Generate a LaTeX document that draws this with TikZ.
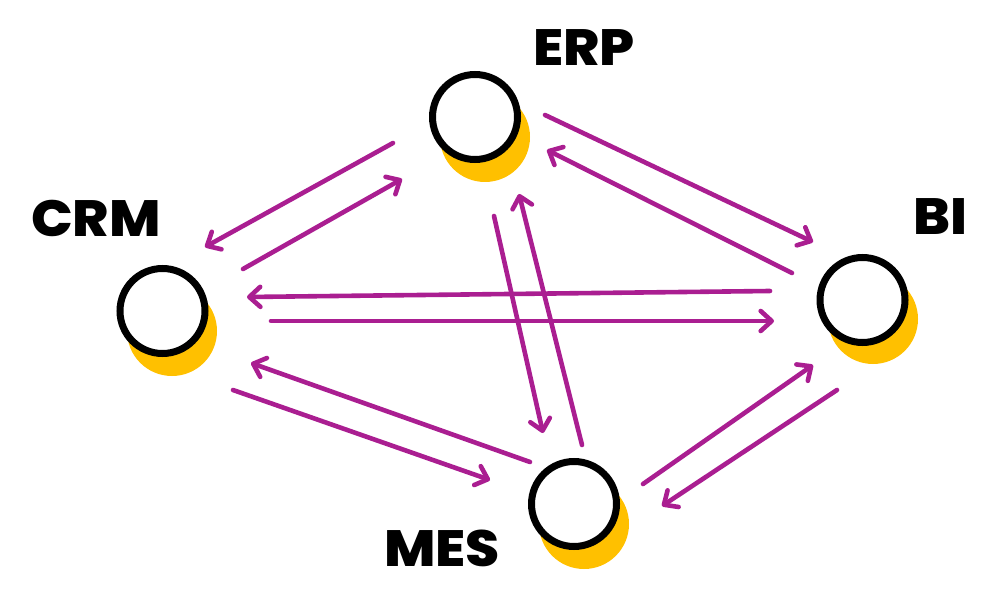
\documentclass[tikz,border=0pt]{standalone}
\usepackage{fontspec}
\setmainfont{Poppins}[BoldFont={Poppins ExtraBold}]
\usetikzlibrary{arrows.meta}
\definecolor{arrowpurple}{RGB}{170,30,145}
\definecolor{sunyellow}{RGB}{255,192,0}
\newcommand{\widelabel}[1]{\scalebox{1.08}[1.0]{#1}}
\begin{document}
\begin{tikzpicture}[x=1pt,y=-1pt,
  sysnode/.style={circle,draw=black,line width=7pt,fill=white,minimum size=85pt,inner sep=0pt},
  shadowdot/.style={circle,fill=sunyellow,minimum size=90pt,inner sep=0pt,draw=none},
  syslabel/.style={font=\fontsize{51}{51}\selectfont\bfseries,anchor=base west,inner sep=0pt},
  flow/.style={draw=arrowpurple,line width=4.6pt,line cap=round,-{Straight Barb[length=11pt,width=20pt,line cap=round,line join=round]}}]
\useasboundingbox (0,0) rectangle (1000,609);
% shadows
\node[shadowdot] (erps) at (485,137) {};
\node[shadowdot] (crms) at (172,331) {};
\node[shadowdot] (bis) at (873,319) {};
\node[shadowdot] (mess) at (584,524) {};
% circles
\node[sysnode] (erp) at (475,117) {};
\node[sysnode] (crm) at (162.5,311) {};
\node[sysnode] (bi) at (862.5,300) {};
\node[sysnode] (mes) at (574,504) {};
% labels
\node[syslabel] (erpl) at (533,66) {\widelabel{ERP}};
\node[syslabel] (crml) at (31,237) {\widelabel{CRM}};
\node[syslabel] (bil) at (913,235) {\widelabel{BI}};
\node[syslabel] (mesl) at (384,566) {\widelabel{MES}};
% connector end points
\coordinate (a1s) at (393,143); \coordinate (a1e) at (205,247);
\coordinate (a2s) at (243,269); \coordinate (a2e) at (402,179);
\coordinate (a3s) at (545,115); \coordinate (a3e) at (813,242);
\coordinate (a4s) at (792,273); \coordinate (a4e) at (547,150);
\coordinate (a5s) at (770,291); \coordinate (a5e) at (247,297);
\coordinate (a6s) at (271,321); \coordinate (a6e) at (774,321);
\coordinate (a7s) at (233,390); \coordinate (a7e) at (490,480);
\coordinate (a8s) at (530,462); \coordinate (a8e) at (251,363);
\coordinate (a9s) at (494,216); \coordinate (a9e) at (543,433);
\coordinate (a10s) at (582,445); \coordinate (a10e) at (519,194);
\coordinate (a11s) at (643,484); \coordinate (a11e) at (813,365);
\coordinate (a12s) at (837,390); \coordinate (a12e) at (662,506);
% connectors
\draw[flow] (a1s) -- (a1e);
\draw[flow] (a2s) -- (a2e);
\draw[flow] (a3s) -- (a3e);
\draw[flow] (a4s) -- (a4e);
\draw[flow] (a5s) -- (a5e);
\draw[flow] (a6s) -- (a6e);
\draw[flow] (a7s) -- (a7e);
\draw[flow] (a8s) -- (a8e);
\draw[flow] (a9s) -- (a9e);
\draw[flow] (a10s) -- (a10e);
\draw[flow] (a11s) -- (a11e);
\draw[flow] (a12s) -- (a12e);
\end{tikzpicture}
\end{document}
